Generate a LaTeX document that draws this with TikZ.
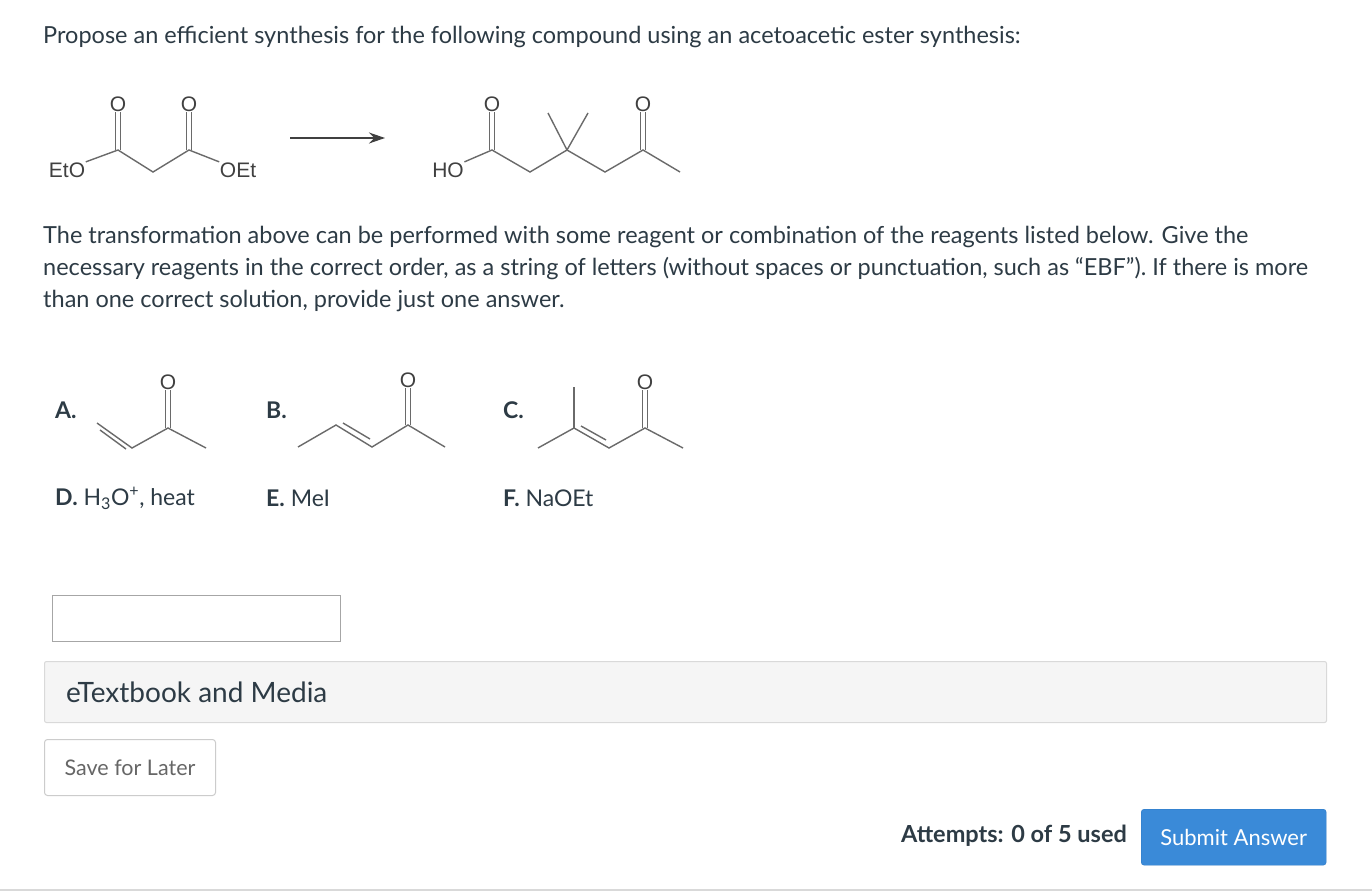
\documentclass[tikz,border=0pt]{standalone}
\usepackage{fontspec}
\setmainfont{Lato}
\newfontfamily\atomfont{Liberation Sans}
\usetikzlibrary{arrows.meta}
\definecolor{txt}{HTML}{2D3B45}
\definecolor{bond}{HTML}{6A6A6A}
\begin{document}
\begin{tikzpicture}[x=1pt,y=-1pt,
  bd/.style={draw=bond,line width=1.4pt},
  atom/.style={font=\fontsize{21}{21}\selectfont\atomfont,text=black!75,inner sep=0.5pt},
  para/.style={font=\fontsize{23.5}{32}\selectfont,text=txt,anchor=west,inner sep=0},
  lbl/.style={font=\fontsize{23}{24}\selectfont,text=txt,anchor=west,inner sep=0}]
\useasboundingbox (0,0) rectangle (1372,894);
\fill[white] (0,0) rectangle (1372,894);
\node[para] (q) at (43,37) {Propose an efficient synthesis for the following compound using an acetoacetic ester synthesis:};
% malonate
\coordinate (m2) at (118,150); \coordinate (m3) at (153,172); \coordinate (m4) at (189,150);
\node[atom] (eto) at (67,170) {EtO};
\node[atom] (oet) at (238,170) {OEt};
\node[atom] (o1) at (118,104) {O};
\node[atom] (o2) at (189,104) {O};
\draw[bd] (eto.north east) -- (m2) -- (m3) -- (m4) -- (oet.north west);
\draw[bd] ([xshift=-2.5pt]m2) -- ([xshift=-2.5pt]o1.south);
\draw[bd] ([xshift=2.5pt]m2) -- ([xshift=2.5pt]o1.south);
\draw[bd] ([xshift=-2.5pt]m4) -- ([xshift=-2.5pt]o2.south);
\draw[bd] ([xshift=2.5pt]m4) -- ([xshift=2.5pt]o2.south);
% arrow
\coordinate (a1) at (290,138); \coordinate (a2) at (385,138);
\draw[draw=bond!60!black,line width=1.4pt,-{Stealth[length=16pt,width=11pt]}] (a1) -- (a2);
% product
\node[atom] (ho) at (448,170) {HO};
\node[atom] (po1) at (492,104) {O};
\node[atom] (po2) at (643,104) {O};
\coordinate (p1) at (492,150); \coordinate (p2) at (530,172); \coordinate (p3) at (567,150);
\coordinate (p4) at (605,172); \coordinate (p5) at (643,150); \coordinate (p6) at (680,172);
\coordinate (pm1) at (548,113); \coordinate (pm2) at (588,113);
\draw[bd] (ho.north east) -- (p1) -- (p2) -- (p3) -- (p4) -- (p5) -- (p6);
\draw[bd] (pm1) -- (p3) -- (pm2);
\draw[bd] ([xshift=-2.5pt]p1) -- ([xshift=-2.5pt]po1.south);
\draw[bd] ([xshift=2.5pt]p1) -- ([xshift=2.5pt]po1.south);
\draw[bd] ([xshift=-2.5pt]p5) -- ([xshift=-2.5pt]po2.south);
\draw[bd] ([xshift=2.5pt]p5) -- ([xshift=2.5pt]po2.south);
\node[para,align=left,anchor=north west] (t2) at (43,226) {The transformation above can be performed with some reagent or combination of the reagents listed below. Give the\\ necessary reagents in the correct order, as a string of letters (without spaces or punctuation, such as “EBF”). If there is more\\ than one correct solution, provide just one answer.};
% options
\node[lbl] (la) at (55,410) {\textbf{A.}};
\node[lbl] (lb) at (266,410) {\textbf{B.}};
\node[lbl] (lc) at (503,410) {\textbf{C.}};
\node[atom] (ao) at (168,382) {O};
\node[atom] (bo) at (408,380) {O};
\node[atom] (co) at (645,382) {O};
% A
\coordinate (A1) at (97,423); \coordinate (A2) at (132,448); \coordinate (A3) at (168,428); \coordinate (A4) at (206,448);
\draw[bd] (A1) -- (A2) -- (A3) -- (A4);
\draw[bd] (100,430) -- (126,449);
\draw[bd] ([xshift=-2.5pt]A3) -- ([xshift=-2.5pt]ao.south);
\draw[bd] ([xshift=2.5pt]A3) -- ([xshift=2.5pt]ao.south);
% B
\coordinate (B1) at (298,447); \coordinate (B2) at (336,425); \coordinate (B3) at (372,447); \coordinate (B4) at (408,425); \coordinate (B5) at (445,447);
\draw[bd] (B1) -- (B2) -- (B3) -- (B4) -- (B5);
\draw[bd] (343,423) -- (370,439);
\draw[bd] ([xshift=-2.5pt]B4) -- ([xshift=-2.5pt]bo.south);
\draw[bd] ([xshift=2.5pt]B4) -- ([xshift=2.5pt]bo.south);
% C
\coordinate (C1) at (538,448); \coordinate (C2) at (574,428); \coordinate (C3) at (574,387); \coordinate (C4) at (609,448); \coordinate (C5) at (645,428); \coordinate (C6) at (683,448);
\draw[bd] (C1) -- (C2) -- (C4) -- (C5) -- (C6);
\draw[bd] (C2) -- (C3);
\draw[bd] (581,426) -- (606,440);
\draw[bd] ([xshift=-2.5pt]C5) -- ([xshift=-2.5pt]co.south);
\draw[bd] ([xshift=2.5pt]C5) -- ([xshift=2.5pt]co.south);
\node[lbl] (ld) at (55,498) {\textbf{D.} H\textsubscript{3}O\textsuperscript{+}, heat};
\node[lbl] (le) at (266,498) {\textbf{E.} MeI};
\node[lbl] (lf) at (503,498) {\textbf{F.} NaOEt};
% UI
\node[draw=black!35,line width=1pt,minimum width=288pt,minimum height=46pt,anchor=north west,inner sep=0] (inp) at (52,595) {};
\node[draw=black!15,fill=black!4,line width=1pt,rounded corners=2pt,minimum width=1282pt,minimum height=61pt,anchor=north west,inner sep=0] (etb) at (44,661) {};
\node[font=\fontsize{28}{28}\selectfont,text=txt,anchor=west,inner sep=0] (etbt) at (66,692) {eTextbook and Media};
\node[draw=black!20,fill=white,line width=1pt,rounded corners=3pt,minimum width=171pt,minimum height=56pt,anchor=north west,font=\fontsize{21.5}{22}\selectfont,text=black!60] (save) at (44,739) {Save for Later};
\node[fill={rgb,255:red,58;green,138;blue,216},draw={rgb,255:red,45;green,120;blue,195},rounded corners=3pt,minimum width=185pt,minimum height=56pt,anchor=north west,font=\fontsize{22}{22}\selectfont,text=white] (sub) at (1141,809) {Submit Answer};
\node[font=\fontsize{23.5}{24}\selectfont\bfseries,text=txt,anchor=east,inner sep=0] (att) at (1127,836) {Attempts: 0 of 5 used};
\draw[black!15,line width=2pt] (0,890) -- (1372,890);
\end{tikzpicture}
\end{document}
